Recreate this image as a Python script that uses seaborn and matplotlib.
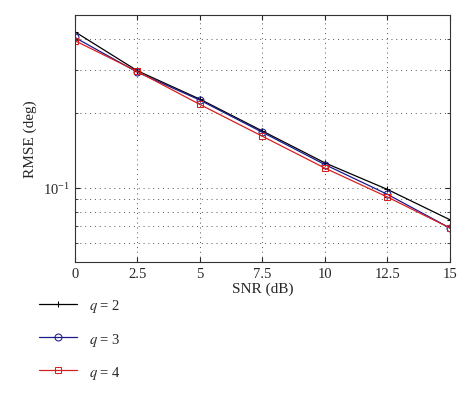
import numpy as np
import seaborn as sns
import matplotlib.pyplot as plt
from matplotlib.ticker import LogLocator, NullFormatter

snr = [0, 2.5, 5, 7.5, 10, 12.5, 15]
rmse_q2 = [0.427, 0.297, 0.228, 0.1695, 0.126, 0.0984, 0.0742]
rmse_q3 = [0.405, 0.293, 0.226, 0.1675, 0.124, 0.094, 0.0687]
rmse_q4 = [0.393, 0.295, 0.217, 0.1614, 0.120, 0.0917, 0.0687]
labels = ['$q$ = 2', '$q$ = 3', '$q$ = 4']
colors = ['#000000', '#1a1a8c', '#d62020']
markers = ['+', 'o', 's']

sns.set_style('ticks')
plt.rcParams['font.family'] = ['Liberation Serif', 'DejaVu Serif']
plt.rcParams['mathtext.fontset'] = 'stix'

fig = plt.figure(figsize=(4.74, 4.06), dpi=100)
ax = fig.add_axes([0.158, 0.352, 0.791, 0.609])

for vals, lab, c, m in zip([rmse_q2, rmse_q3, rmse_q4], labels, colors, markers):
    sns.lineplot(x=snr, y=vals, color=c, marker=m, markersize=5,
                 markeredgecolor=c, markerfacecolor='none', linewidth=0.9,
                 label=lab, ax=ax)

ax.set_yscale('log')
ax.set_xlim(0, 15)
ax.set_ylim(0.05, 0.5)
ax.set_xticks(snr)
ax.set_xticklabels(['0', '2.5', '5', '7.5', '10', '12.5', '15'])
ax.yaxis.set_major_locator(LogLocator(base=10))
ax.yaxis.set_minor_locator(LogLocator(base=10, subs=np.arange(2, 10)))
ax.yaxis.set_minor_formatter(NullFormatter())
ax.grid(True, which='both', linestyle=(0, (1, 4)), color='#555555', linewidth=0.7)
ax.tick_params(direction='in', which='both', labelsize=10.5, top=True, right=True)
for s in ax.spines.values():
    s.set_color('#333333')
    s.set_linewidth(0.8)
ax.set_xlabel('SNR (dB)', fontsize=11, labelpad=1)
ax.set_ylabel('RMSE (deg)', fontsize=11)

ax.legend(loc='upper left', bbox_to_anchor=(-0.13, -0.09),
          frameon=False, fontsize=10.5, handlelength=2.6, labelspacing=1.1)

fig.savefig('out.png', dpi=100)
